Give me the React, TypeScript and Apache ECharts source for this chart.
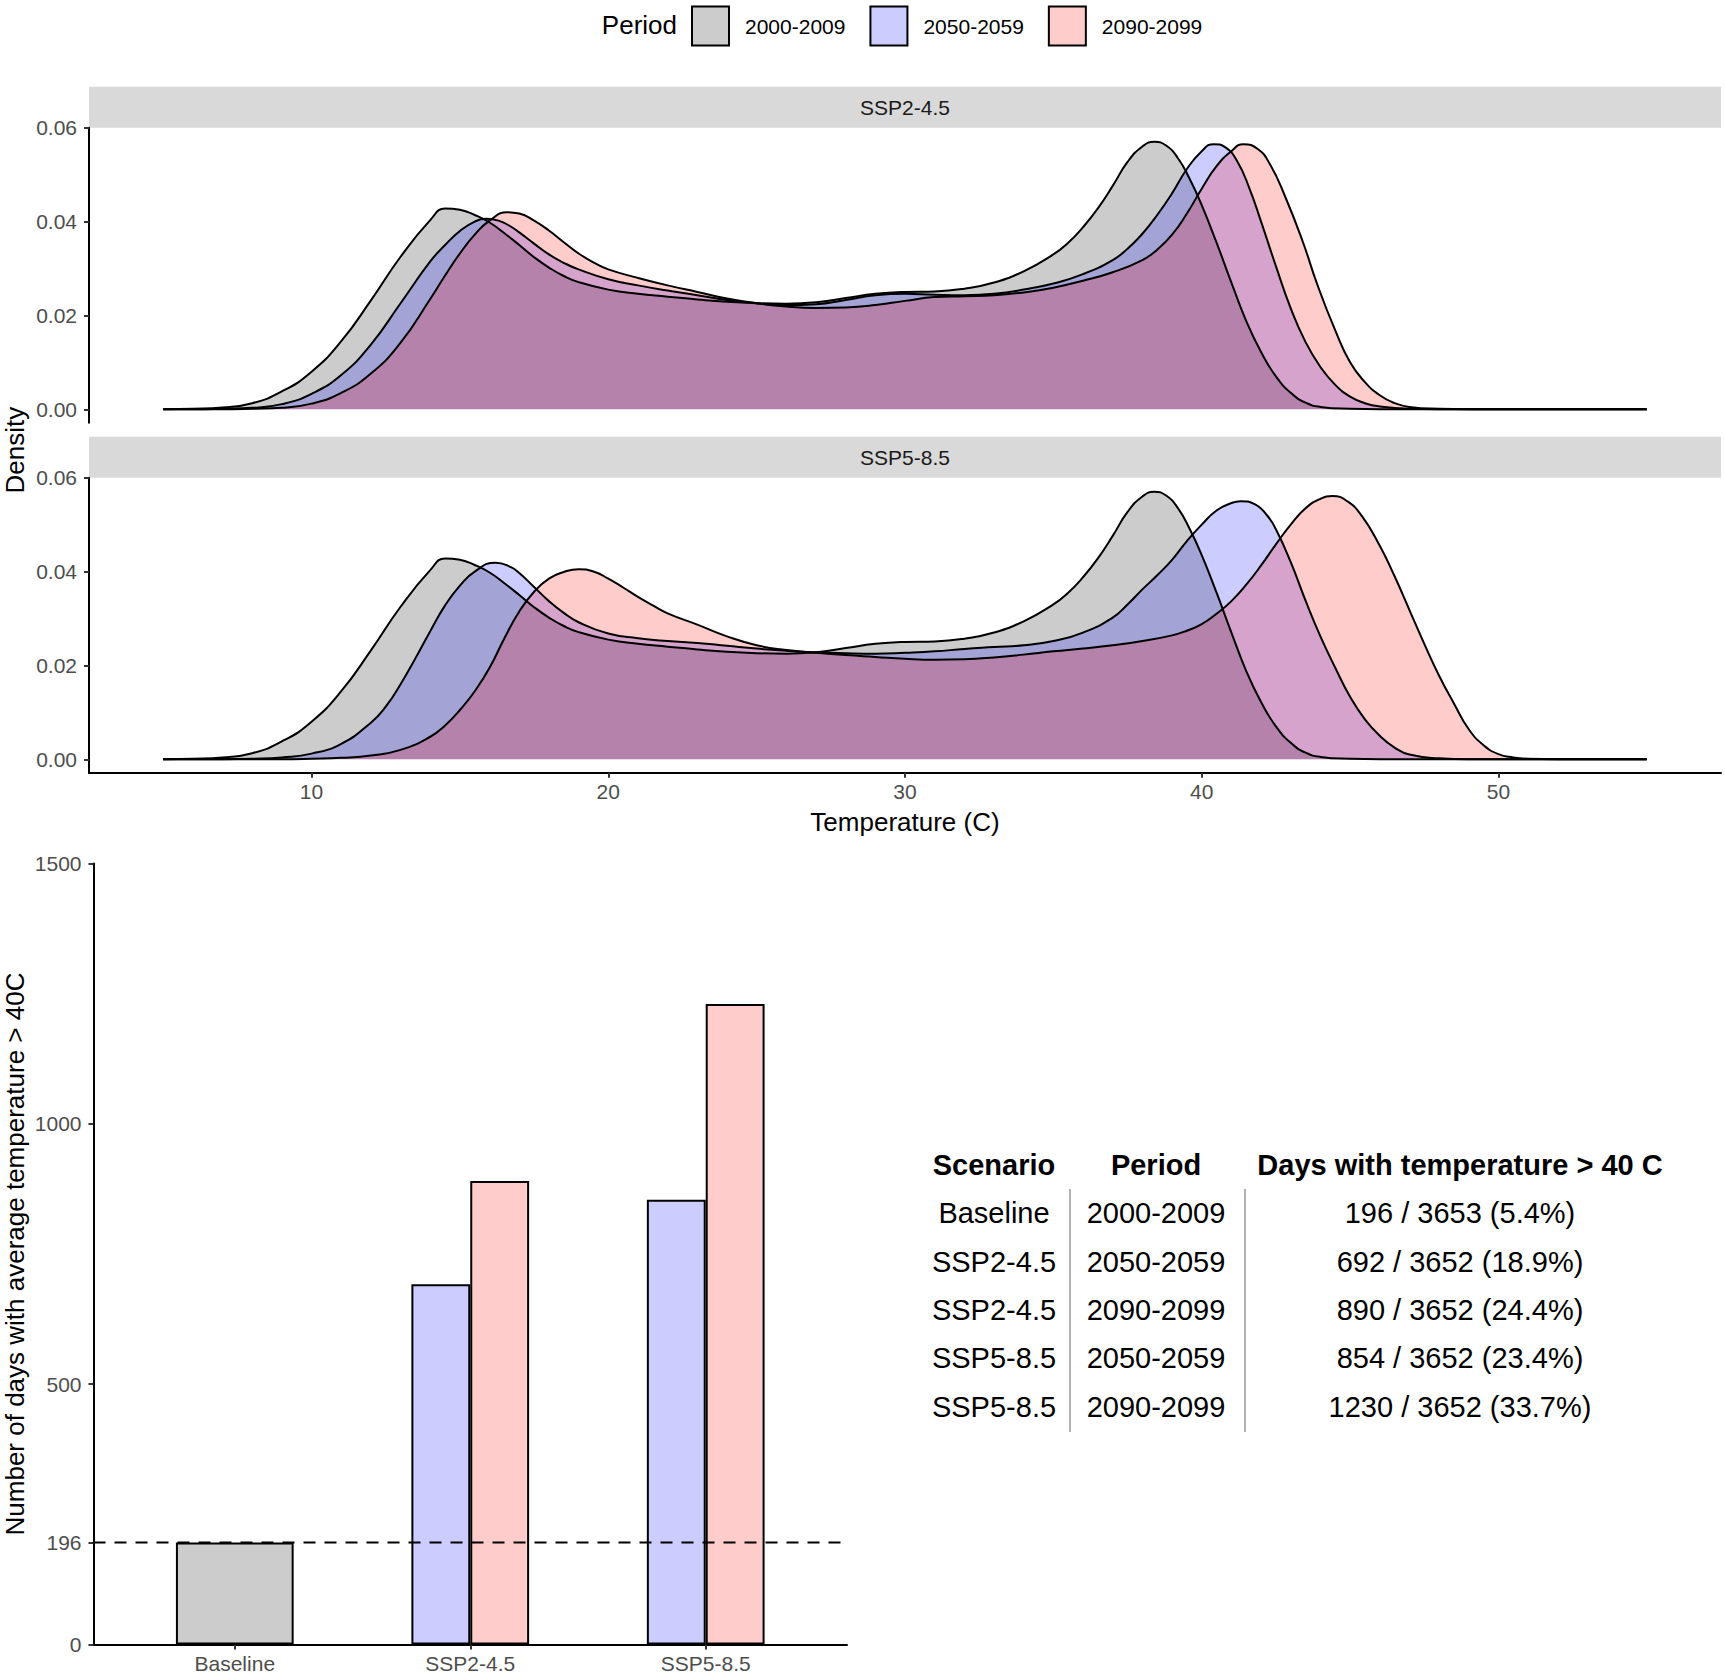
import React, { useEffect, useRef } from 'react';
import * as echarts from 'echarts';

const FONT = '"Liberation Sans", Arial, Helvetica, sans-serif';

// ---- Periods / scenarios ----
const periods = ['2000-2009', '2050-2059', '2090-2099'];
const periodArea = ['rgba(0,0,0,0.2)', 'rgba(0,0,255,0.2)', 'rgba(255,0,0,0.2)'];
const periodKey = ['#CCCCCC', '#CCCCFF', '#FFCCCC'];
const scenarios = ['SSP2-4.5', 'SSP5-8.5'];

// ---- Daily average temperature densities: [temperature (C), density] ----
const densityBaseline: [number, number][] = [
  [5, 0], [6, 0.0001], [7, 0.0004], [8, 0.0013], [9, 0.0038], [10, 0.008], [11, 0.0145], [12, 0.0232],
  [13, 0.0325], [14, 0.0403], [14.5, 0.0428], [15, 0.0425], [15.5, 0.0414], [16, 0.0398], [16.5, 0.0375],
  [17, 0.035], [17.5, 0.0324], [18, 0.0302], [18.5, 0.0284], [19, 0.0271], [20, 0.0255], [21, 0.0246],
  [22, 0.024], [23, 0.0234], [24, 0.0229], [25, 0.0226], [26, 0.0225], [27, 0.0228], [28, 0.0237],
  [29, 0.0246], [30, 0.025], [31, 0.0251], [32, 0.0257], [33, 0.027], [34, 0.0294], [35, 0.033],
  [35.5, 0.0355], [36, 0.0388], [36.5, 0.0428], [37, 0.0476], [37.5, 0.0527], [38, 0.056], [38.4, 0.057],
  [38.8, 0.0562], [39.2, 0.0535], [39.6, 0.049], [40, 0.0435], [40.5, 0.0355], [41, 0.027], [41.5, 0.0188],
  [42, 0.0122], [42.5, 0.007], [43, 0.0035], [43.5, 0.0014], [44, 0.0005], [45, 0.0001], [46, 0],
  [48, 0], [50, 0], [52, 0], [55, 0],
];

const densitySsp245Mid: [number, number][] = [
  [5, 0], [6, 0], [7, 0.0001], [8, 0.0003], [9, 0.0011], [10, 0.0033], [11, 0.0073], [12, 0.0138],
  [13, 0.0226], [14, 0.0315], [14.5, 0.035], [15, 0.038], [15.5, 0.04], [15.9, 0.0406], [16.3, 0.0402],
  [16.7, 0.039], [17, 0.0377], [17.5, 0.0353], [18, 0.033], [18.5, 0.0312], [19, 0.0298], [20, 0.0277],
  [21, 0.0264], [22, 0.0253], [23, 0.0243], [24, 0.0233], [25, 0.0226], [26, 0.0222], [27, 0.0224],
  [28, 0.0233], [29, 0.0243], [30, 0.0246], [31, 0.0244], [32, 0.0243], [33, 0.0246], [34, 0.0255],
  [35, 0.0268], [36, 0.0288], [37, 0.0318], [37.5, 0.0342], [38, 0.0374], [38.5, 0.0414], [39, 0.046],
  [39.5, 0.0512], [40, 0.055], [40.4, 0.0565], [40.8, 0.0558], [41.2, 0.0528], [41.6, 0.0472], [42, 0.04],
  [42.5, 0.0305], [43, 0.0215], [43.5, 0.0143], [44, 0.009], [44.5, 0.0052], [45, 0.0027], [45.5, 0.0013],
  [46, 0.0006], [47, 0.0001], [48, 0], [50, 0], [52, 0], [55, 0],
];

const densitySsp245End: [number, number][] = [
  [5, 0], [7, 0], [8, 0.0001], [9, 0.0003], [10, 0.0012], [11, 0.0035], [12, 0.0076], [13, 0.0142],
  [14, 0.0235], [14.5, 0.0285], [15, 0.0332], [15.5, 0.0372], [16, 0.0402], [16.6, 0.042], [17, 0.0417],
  [17.5, 0.0402], [18, 0.0381], [18.5, 0.0356], [19, 0.0332], [19.5, 0.0313], [20, 0.0298], [21, 0.028],
  [22, 0.0264], [23, 0.025], [24, 0.0236], [25, 0.0226], [26, 0.0219], [27, 0.0216], [28, 0.0217],
  [29, 0.0222], [30, 0.0231], [31, 0.0239], [32, 0.0241], [33, 0.0243], [34, 0.0249], [35, 0.0259],
  [36, 0.0274], [37, 0.0292], [38, 0.0318], [38.5, 0.034], [39, 0.0372], [39.5, 0.0417], [40, 0.047],
  [40.5, 0.0518], [41, 0.055], [41.4, 0.0565], [41.9, 0.0554], [42.3, 0.0522], [42.8, 0.0455], [43.4, 0.0358],
  [43.9, 0.0265], [44.5, 0.0168], [45, 0.01], [45.5, 0.0058], [46, 0.003], [46.5, 0.0013], [47, 0.0005],
  [48, 0.0001], [49, 0], [52, 0], [55, 0],
];

const densitySsp585Mid: [number, number][] = [
  [5, 0], [7, 0], [8, 0.0001], [9, 0.0004], [10, 0.0012], [11, 0.0033], [12, 0.0078], [12.5, 0.0112],
  [13, 0.016], [13.5, 0.0215], [14, 0.0273], [14.5, 0.0328], [15, 0.037], [15.5, 0.04], [16.2, 0.0419],
  [16.7, 0.041], [17, 0.0397], [17.5, 0.0367], [18, 0.0337], [18.5, 0.0312], [19, 0.0292], [20, 0.0268],
  [21, 0.0258], [22, 0.0252], [23, 0.0248], [24, 0.0242], [25, 0.0236], [26, 0.0231], [27, 0.0228],
  [28, 0.0226], [29, 0.0225], [30, 0.0227], [31, 0.023], [32, 0.0235], [33, 0.0239], [34, 0.0243],
  [35, 0.0252], [36, 0.027], [37, 0.0302], [37.5, 0.033], [38, 0.0362], [38.5, 0.0392], [39, 0.0425],
  [39.5, 0.0465], [40, 0.05], [40.5, 0.053], [41, 0.0546], [41.3, 0.055], [41.8, 0.0543], [42.2, 0.052],
  [42.5, 0.049], [43, 0.042], [43.5, 0.0338], [44, 0.0262], [44.5, 0.0195], [45, 0.0133], [45.5, 0.0085],
  [46, 0.005], [46.5, 0.0025], [47, 0.001], [48, 0.0002], [49, 0], [52, 0], [55, 0],
];

const densitySsp585End: [number, number][] = [
  [5, 0], [9, 0], [10, 0.0001], [11, 0.0003], [12, 0.0008], [13, 0.002], [14, 0.0048], [14.5, 0.0072],
  [15, 0.0105], [15.5, 0.0145], [16, 0.0195], [16.5, 0.0258], [17, 0.0315], [17.5, 0.0357], [18, 0.0385],
  [18.5, 0.0399], [19, 0.0405], [19.5, 0.04], [20, 0.0385], [20.5, 0.0366], [21, 0.0346], [21.5, 0.0328],
  [22, 0.0311], [23, 0.0287], [24, 0.0262], [25, 0.0243], [26, 0.0233], [27, 0.0227], [28, 0.0222],
  [29, 0.0218], [30, 0.0214], [31, 0.0212], [32, 0.0213], [33, 0.0217], [34, 0.0223], [35, 0.023],
  [36, 0.0236], [37, 0.0243], [38, 0.0252], [39, 0.0264], [39.5, 0.0274], [40, 0.0288], [40.5, 0.031],
  [41, 0.0337], [41.5, 0.0372], [42, 0.0413], [42.5, 0.0458], [43, 0.05], [43.5, 0.0535], [44, 0.0555],
  [44.4, 0.0561], [44.9, 0.055], [45.4, 0.0518], [46, 0.0455], [46.5, 0.039], [47, 0.0318], [47.5, 0.0246],
  [48, 0.0178], [48.5, 0.0119], [49, 0.0064], [49.5, 0.003], [50, 0.0011], [50.5, 0.0004], [51, 0.0001],
  [52, 0], [55, 0],
];

const tempTicks = [10, 20, 30, 40, 50];
const densityTicks = [0, 0.02, 0.04, 0.06];

// ---- Hot days (> 40 C) ----
const barCategories = ['Baseline', 'SSP2-4.5', 'SSP5-8.5'];
const tableScenario = ['Baseline', 'SSP2-4.5', 'SSP2-4.5', 'SSP5-8.5', 'SSP5-8.5'];
const tablePeriod = ['2000-2009', '2050-2059', '2090-2099', '2050-2059', '2090-2099'];
const hotDays = [196, 692, 890, 854, 1230];
const totalDays = [3653, 3652, 3652, 3652, 3652];
const countTicks = [0, hotDays[0], 500, 1000, 1500];

// ---- Layout ----
const W = 1725;
const H = 1677;
const PANEL_LEFT = 89;
const PANEL_W = 1632;
const PANEL_H = 295;
const STRIP_H = 41;
const panelTops = [127.7, 477.7];
const BAR_LEFT = 93.5;
const BAR_W = 753.5;
const BAR_TOP = 863.5;
const BAR_H = 781;
const BAND = BAR_W / 3.2;

const tickText = { color: '#4D4D4D', fontSize: 21, fontFamily: FONT };

function densityLine(name: string, data: [number, number][], area: string, idx: number) {
  return {
    type: 'line',
    name,
    xAxisIndex: idx,
    yAxisIndex: idx,
    data,
    smooth: 0.5,
    symbol: 'none',
    showSymbol: false,
    silent: true,
    lineStyle: { color: '#000', width: 2 },
    itemStyle: { color: area },
    areaStyle: { color: area, opacity: 1 },
  };
}

function buildOption() {
  const densitySets = [
    [densityBaseline, densitySsp245Mid, densitySsp245End],
    [densityBaseline, densitySsp585Mid, densitySsp585End],
  ];

  const grids: any[] = [
    ...panelTops.map((top) => ({ left: PANEL_LEFT, top, width: PANEL_W, height: PANEL_H, containLabel: false, outerBoundsMode: 'none' })),
    { left: BAR_LEFT, top: BAR_TOP, width: BAR_W, height: BAR_H, containLabel: false, outerBoundsMode: 'none' },
    { left: BAR_LEFT + 0.1 * BAND, top: BAR_TOP, width: 3 * BAND, height: BAR_H, containLabel: false, outerBoundsMode: 'none' },
  ];

  const xAxes: any[] = panelTops.map((_, i) => ({
    type: 'value',
    gridIndex: i,
    min: 2.5,
    max: 57.5,
    splitLine: { show: false },
    axisLine: { show: i === 1, onZero: false, lineStyle: { color: '#000', width: 2 } },
    axisTick: { show: i === 1, length: 5, customValues: tempTicks, lineStyle: { color: '#333', width: 2 } },
    axisLabel: { show: i === 1, customValues: tempTicks, margin: 8, formatter: (v: number) => String(v), ...tickText },
  }));
  xAxes.push({
    type: 'value',
    gridIndex: 2,
    min: 0.4,
    max: 3.6,
    splitLine: { show: false },
    axisLine: { show: true, onZero: false, lineStyle: { color: '#000', width: 2 } },
    axisTick: { show: true, length: 5, customValues: [1, 2, 3], lineStyle: { color: '#333', width: 2 } },
    axisLabel: {
      show: true,
      customValues: [1, 2, 3],
      margin: 8,
      formatter: (v: number) => barCategories[Math.round(v) - 1] ?? '',
      ...tickText,
    },
  });
  xAxes.push({ type: 'category', gridIndex: 3, data: barCategories, show: false });
  xAxes.push({ type: 'category', gridIndex: 3, data: barCategories, show: false });

  const yAxes: any[] = panelTops.map((_, i) => ({
    type: 'value',
    gridIndex: i,
    min: -0.00286,
    max: 0.06,
    splitLine: { show: false },
    axisLine: { show: true, onZero: false, lineStyle: { color: '#000', width: 2 } },
    axisTick: { show: true, length: 5, customValues: densityTicks, lineStyle: { color: '#333', width: 2 } },
    axisLabel: { show: true, customValues: densityTicks, margin: 12, formatter: (v: number) => v.toFixed(2), ...tickText },
  }));
  yAxes.push({
    type: 'value',
    gridIndex: 2,
    min: 0,
    max: 1500,
    splitLine: { show: false },
    axisLine: { show: true, onZero: false, lineStyle: { color: '#000', width: 2 } },
    axisTick: { show: true, length: 5, customValues: countTicks, lineStyle: { color: '#333', width: 2 } },
    axisLabel: { show: true, customValues: countTicks, margin: 12, formatter: (v: number) => String(v), ...tickText },
  });
  yAxes.push({ type: 'value', gridIndex: 3, min: 0, max: 1500, show: false, splitLine: { show: false } });

  const series: any[] = [];
  densitySets.forEach((set, gi) => {
    set.forEach((data, pi) => series.push(densityLine(periods[pi], data, periodArea[pi], gi)));
  });

  const barStyle = (c: string) => ({ color: c, borderColor: '#000', borderWidth: 2 });
  series.push({
    type: 'bar',
    name: periods[0],
    xAxisIndex: 3,
    yAxisIndex: 3,
    barWidth: '50%',
    data: [hotDays[0], '-', '-'],
    itemStyle: barStyle(periodKey[0]),
    silent: true,
  });
  series.push({
    type: 'bar',
    name: periods[1],
    xAxisIndex: 4,
    yAxisIndex: 3,
    barWidth: '25%',
    barGap: '0%',
    data: ['-', hotDays[1], hotDays[3]],
    itemStyle: barStyle(periodKey[1]),
    silent: true,
  });
  series.push({
    type: 'bar',
    name: periods[2],
    xAxisIndex: 4,
    yAxisIndex: 3,
    barWidth: '25%',
    barGap: '0%',
    data: ['-', hotDays[2], hotDays[4]],
    itemStyle: barStyle(periodKey[2]),
    silent: true,
  });
  // baseline reference line across the whole axis
  series.push({
    type: 'line',
    name: 'baseline-ref',
    xAxisIndex: 2,
    yAxisIndex: 2,
    data: [[0.4, hotDays[0]], [3.6, hotDays[0]]],
    symbol: 'none',
    silent: true,
    z: 5,
    lineStyle: { color: '#000', width: 2, type: [12, 9] },
  });

  const graphics: any[] = [];
  // facet strips
  panelTops.forEach((top, i) => {
    graphics.push({
      type: 'rect',
      shape: { x: PANEL_LEFT, y: top - STRIP_H, width: PANEL_W, height: STRIP_H },
      style: { fill: '#D9D9D9' },
      silent: true,
    });
    graphics.push({
      type: 'text',
      x: PANEL_LEFT + PANEL_W / 2,
      y: top - STRIP_H / 2,
      style: { text: scenarios[i], fill: '#1A1A1A', fontSize: 21, fontFamily: FONT, align: 'center', verticalAlign: 'middle' },
      silent: true,
    });
  });
  // axis titles
  graphics.push({
    type: 'text',
    x: PANEL_LEFT + PANEL_W / 2,
    y: 822,
    style: { text: 'Temperature (C)', fill: '#000', fontSize: 26, fontFamily: FONT, align: 'center', verticalAlign: 'middle' },
  });
  graphics.push({
    type: 'text',
    x: 15,
    y: (panelTops[0] + panelTops[1] + PANEL_H) / 2,
    rotation: Math.PI / 2,
    style: { text: 'Density', fill: '#000', fontSize: 26, fontFamily: FONT, align: 'center', verticalAlign: 'middle' },
  });
  graphics.push({
    type: 'text',
    x: 15,
    y: BAR_TOP + BAR_H / 2,
    rotation: Math.PI / 2,
    style: {
      text: 'Number of days with average temperature > 40C',
      fill: '#000',
      fontSize: 26,
      fontFamily: FONT,
      align: 'center',
      verticalAlign: 'middle',
    },
  });
  // legend title
  graphics.push({
    type: 'text',
    x: 677,
    y: 25,
    style: { text: 'Period', fill: '#000', fontSize: 26, fontFamily: FONT, align: 'right', verticalAlign: 'middle' },
  });

  // summary table
  const colX = [994, 1156, 1460];
  const headY = 1165;
  const rowY0 = 1213.3;
  const rowStep = 48.35;
  const headers = ['Scenario', 'Period', 'Days with temperature > 40 C'];
  headers.forEach((h, c) => {
    graphics.push({
      type: 'text',
      x: colX[c],
      y: headY,
      style: { text: h, fill: '#000', fontSize: 29, fontWeight: 'bold', fontFamily: FONT, align: 'center', verticalAlign: 'middle' },
    });
  });
  tableScenario.forEach((s, r) => {
    const pct = ((100 * hotDays[r]) / totalDays[r]).toFixed(1);
    const cells = [s, tablePeriod[r], `${hotDays[r]} / ${totalDays[r]} (${pct}%)`];
    cells.forEach((t, c) => {
      graphics.push({
        type: 'text',
        x: colX[c],
        y: rowY0 + r * rowStep,
        style: { text: t, fill: '#000', fontSize: 29, fontFamily: FONT, align: 'center', verticalAlign: 'middle' },
      });
    });
  });
  [1070, 1245].forEach((x) => {
    graphics.push({
      type: 'line',
      shape: { x1: x, y1: 1189, x2: x, y2: 1432 },
      style: { stroke: '#A0A0A0', lineWidth: 1.6 },
    });
  });

  return {
    animation: false,
    backgroundColor: '#FFFFFF',
    textStyle: { fontFamily: FONT },
    grid: grids,
    xAxis: xAxes,
    yAxis: yAxes,
    legend: {
      show: true,
      left: 691,
      top: 5.5,
      padding: 0,
      orient: 'horizontal',
      itemWidth: 37,
      itemHeight: 39,
      itemGap: 24,
      selectedMode: false,
      icon: 'rect',
      textStyle: { color: '#000', fontSize: 21, fontFamily: FONT, padding: [0, 0, 0, 11] },
      data: periods.map((p, i) => ({
        name: p,
        icon: 'rect',
        itemStyle: { color: periodKey[i], borderColor: '#000', borderWidth: 2, opacity: 1 },
      })),
    },
    series,
    graphic: graphics,
  };
}

export default function App() {
  const ref = useRef<HTMLDivElement>(null);
  useEffect(() => {
    if (!ref.current) return;
    const chart = echarts.init(ref.current, null, { renderer: 'svg', width: W, height: H });
    chart.setOption(buildOption() as any);
    return () => chart.dispose();
  }, []);
  return (
    <div
      ref={ref}
      style={{ position: 'fixed', left: 0, top: 0, width: W, height: H, background: '#fff' }}
    />
  );
}
